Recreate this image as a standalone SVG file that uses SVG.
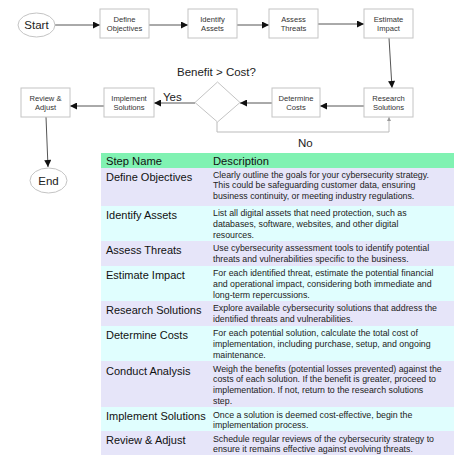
<svg xmlns="http://www.w3.org/2000/svg" width="474" height="474" viewBox="0 0 474 474">
<style>
.box{fill:#fff;stroke:#c4c4c4;stroke-width:1}
.term{fill:#fff;stroke:#c4c4c4;stroke-width:1}
.bt{font-family:"Liberation Sans",Arial,sans-serif;font-size:7.6px;fill:#333;text-anchor:middle}
.tt{font-family:"Liberation Sans",Arial,sans-serif;font-size:11.5px;fill:#222;text-anchor:middle}
.lbl{font-family:"Liberation Sans",Arial,sans-serif;font-size:11.5px;fill:#222}
.ln{fill:none;stroke:#555;stroke-width:1}
.lg{fill:none;stroke:#bbb;stroke-width:1}
.hd{font-family:"Liberation Sans",Arial,sans-serif;font-size:11.2px;fill:#111}
.nm{font-family:"Liberation Sans",Arial,sans-serif;font-size:11px;fill:#111}
.ds{font-family:"Liberation Sans",Arial,sans-serif;font-size:8.8px;fill:#222}
.lav{fill:#e6e5f9}
.cy{fill:#e0fefe}
</style>
<defs>
<marker id="ah" viewBox="0 0 10 10" refX="10" refY="5" markerWidth="8" markerHeight="7" markerUnits="userSpaceOnUse" orient="auto">
<path d="M0,0 L10,5 L0,10 Z" fill="#111"/>
</marker>
<marker id="ahs" viewBox="0 0 10 10" refX="10" refY="5" markerWidth="5" markerHeight="4" markerUnits="userSpaceOnUse" orient="auto">
<path d="M0,0 L10,5 L0,10 Z" fill="#999"/>
</marker>
</defs>
<rect width="474" height="474" fill="#fff"/>

<g id="connectors">
<line class="ln" x1="55" y1="25" x2="100" y2="25" marker-end="url(#ah)"/>
<line class="ln" x1="149" y1="25" x2="188" y2="25" marker-end="url(#ah)"/>
<line class="ln" x1="237" y1="25" x2="269" y2="25" marker-end="url(#ah)"/>
<line class="ln" x1="318" y1="24" x2="364" y2="24" marker-end="url(#ah)"/>
<line class="ln" x1="389" y1="38" x2="392" y2="88" marker-end="url(#ah)"/>
<line class="ln" x1="364" y1="106" x2="320" y2="106" marker-end="url(#ah)"/>
<line class="ln" x1="272" y1="103" x2="240" y2="103" marker-end="url(#ah)"/>
<line class="ln" x1="195" y1="103" x2="154" y2="103" marker-end="url(#ah)"/>
<line class="ln" x1="104" y1="106" x2="70" y2="106" marker-end="url(#ah)"/>
<line class="ln" x1="46" y1="117" x2="48" y2="167" marker-end="url(#ah)"/>
<polyline class="lg" points="217,122 217,132 389,132 389,117" marker-end="url(#ahs)"/>
<text class="lbl" x="177" y="76">Benefit &gt; Cost?</text>
<text class="lbl" x="163" y="101">Yes</text>
<text class="lbl" x="298" y="147">No</text>
</g>

<g id="start"><ellipse class="term" cx="36.5" cy="25" rx="18.5" ry="12"/><text class="tt" x="36.5" y="29">Start</text></g>
<g id="define"><rect class="box" x="100" y="9" width="49" height="29"/><text class="bt" x="124.5" y="22">Define</text><text class="bt" x="124.5" y="30.5">Objectives</text></g>
<g id="identify"><rect class="box" x="188" y="9" width="49" height="29"/><text class="bt" x="212.5" y="22">Identify</text><text class="bt" x="212.5" y="30.5">Assets</text></g>
<g id="assess"><rect class="box" x="269" y="9" width="49" height="29"/><text class="bt" x="293.5" y="22">Assess</text><text class="bt" x="293.5" y="30.5">Threats</text></g>
<g id="estimate"><rect class="box" x="364" y="9" width="49" height="29"/><text class="bt" x="388.5" y="22">Estimate</text><text class="bt" x="388.5" y="30.5">Impact</text></g>
<g id="research"><rect class="box" x="364" y="88" width="49" height="29"/><text class="bt" x="388.5" y="100.5">Research</text><text class="bt" x="388.5" y="109.5">Solutions</text></g>
<g id="determine"><rect class="box" x="272" y="88" width="48" height="29"/><text class="bt" x="296" y="100.5">Determine</text><text class="bt" x="296" y="109.5">Costs</text></g>
<g id="decision"><polygon class="box" points="217.5,82 240,102.5 217.5,122 195,102.5"/></g>
<g id="implement"><rect class="box" x="104" y="88" width="50" height="29"/><text class="bt" x="129" y="100.5">Implement</text><text class="bt" x="129" y="109.5">Solutions</text></g>
<g id="review"><rect class="box" x="21" y="88" width="49" height="29"/><text class="bt" x="45.5" y="100.5">Review &amp;</text><text class="bt" x="45.5" y="109.5">Adjust</text></g>
<g id="end"><ellipse class="term" cx="48.5" cy="180.5" rx="18.5" ry="12.5"/><text class="tt" x="48.5" y="184.5">End</text></g>

<g id="table">
<rect x="101" y="153" width="353" height="15" fill="#80f2b2"/>
<text class="hd" x="106" y="164.5">Step Name</text>
<text class="hd" x="213" y="164.5">Description</text>

<rect class="lav" x="101" y="168" width="353" height="38"/>
<text class="nm" x="106" y="181">Define Objectives</text>
<text class="ds" x="213" y="177.5">Clearly outline the goals for your cybersecurity strategy.</text>
<text class="ds" x="213" y="188.3">This could be safeguarding customer data, ensuring</text>
<text class="ds" x="213" y="199.1">business continuity, or meeting industry regulations.</text>

<rect class="cy" x="101" y="206" width="353" height="35"/>
<text class="nm" x="106" y="219">Identify Assets</text>
<text class="ds" x="213" y="216">List all digital assets that need protection, such as</text>
<text class="ds" x="213" y="226.8">databases, software, websites, and other digital</text>
<text class="ds" x="213" y="238">resources.</text>

<rect class="lav" x="101" y="241" width="353" height="25"/>
<text class="nm" x="106" y="254">Assess Threats</text>
<text class="ds" x="213" y="251">Use cybersecurity assessment tools to identify potential</text>
<text class="ds" x="213" y="261.8">threats and vulnerabilities specific to the business.</text>

<rect class="cy" x="101" y="266" width="353" height="35"/>
<text class="nm" x="106" y="279">Estimate Impact</text>
<text class="ds" x="213" y="276">For each identified threat, estimate the potential financial</text>
<text class="ds" x="213" y="286.8">and operational impact, considering both immediate and</text>
<text class="ds" x="213" y="297.6">long-term repercussions.</text>

<rect class="lav" x="101" y="301" width="353" height="25"/>
<text class="nm" x="106" y="314">Research Solutions</text>
<text class="ds" x="213" y="311">Explore available cybersecurity solutions that address the</text>
<text class="ds" x="213" y="321.8">identified threats and vulnerabilities.</text>

<rect class="cy" x="101" y="326" width="353" height="35"/>
<text class="nm" x="106" y="339">Determine Costs</text>
<text class="ds" x="213" y="336">For each potential solution, calculate the total cost of</text>
<text class="ds" x="213" y="346.8">implementation, including purchase, setup, and ongoing</text>
<text class="ds" x="213" y="357.6">maintenance.</text>

<rect class="lav" x="101" y="361" width="353" height="46"/>
<text class="nm" x="106" y="375">Conduct Analysis</text>
<text class="ds" x="213" y="371.5">Weigh the benefits (potential losses prevented) against the</text>
<text class="ds" x="213" y="382.3">costs of each solution. If the benefit is greater, proceed to</text>
<text class="ds" x="213" y="393.1">implementation. If not, return to the research solutions</text>
<text class="ds" x="213" y="403.9">step.</text>

<rect class="cy" x="101" y="407" width="353" height="24"/>
<text class="nm" x="106" y="419.5">Implement Solutions</text>
<text class="ds" x="213" y="417.5">Once a solution is deemed cost-effective, begin the</text>
<text class="ds" x="213" y="428.3">implementation process.</text>

<rect class="lav" x="101" y="431" width="353" height="24"/>
<text class="nm" x="106" y="444">Review &amp; Adjust</text>
<text class="ds" x="213" y="441.5">Schedule regular reviews of the cybersecurity strategy to</text>
<text class="ds" x="213" y="452.3">ensure it remains effective against evolving threats.</text>
</g>
</svg>
